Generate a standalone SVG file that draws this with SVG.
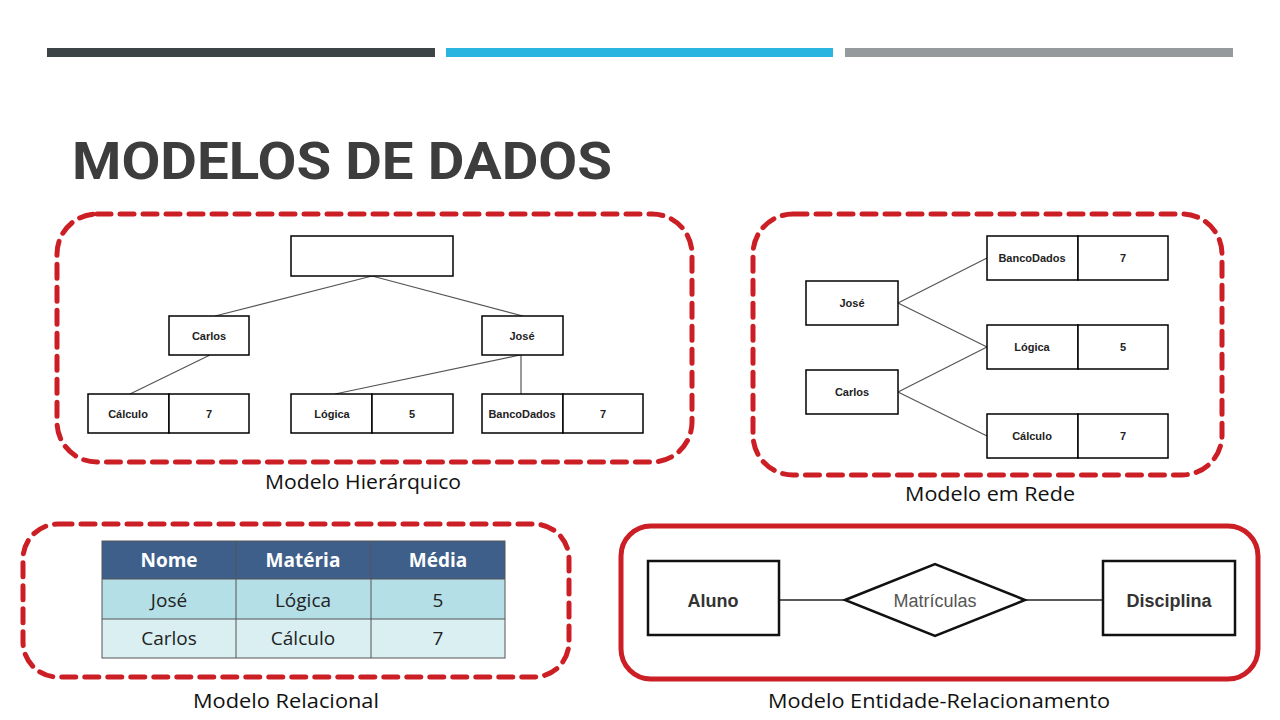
<svg xmlns="http://www.w3.org/2000/svg" width="1280" height="720" viewBox="0 0 1280 720">
<style>
.dash{fill:none;stroke:#cc1f25;stroke-width:5;stroke-dasharray:14 9;stroke-linecap:round}
.b{fill:#fff;stroke:#000;stroke-width:1.5}
.t{font-family:"Liberation Sans",Arial,sans-serif;font-size:11px;text-anchor:middle;font-weight:bold;fill:#222}
.cap{font-family:"Open Sans","Liberation Sans",sans-serif;font-size:20px;text-anchor:middle;fill:#111}
.ln{stroke:#555;stroke-width:1.2;fill:none}
.th{font-family:"Open Sans","Liberation Sans",sans-serif;font-size:19px;font-weight:bold;fill:#fff;text-anchor:middle}
.td{font-family:"Open Sans","Liberation Sans",sans-serif;font-size:19px;fill:#222;text-anchor:middle}
.er{font-family:"Liberation Sans",Arial,sans-serif;font-size:18px;font-weight:bold;fill:#333;text-anchor:middle}
</style>
<rect width="1280" height="720" fill="#fff"/>
<rect x="47" y="48" width="388" height="9" fill="#3d4447"/>
<rect x="446" y="48" width="387" height="9" fill="#29b5e0"/>
<rect x="845" y="48" width="388" height="9" fill="#959b9d"/>
<text x="72" y="179" font-family="Roboto,'Liberation Sans',sans-serif" font-weight="bold" font-size="52" fill="#3d3d3d" textLength="540" lengthAdjust="spacingAndGlyphs">MODELOS DE DADOS</text>

<g id="connectors">
<line class="ln" x1="372" y1="276" x2="215" y2="316"/>
<line class="ln" x1="372" y1="276" x2="523" y2="316"/>
<line class="ln" x1="210" y1="355" x2="130" y2="394"/>
<line class="ln" x1="520" y1="355" x2="335" y2="394"/>
<line class="ln" x1="521" y1="355" x2="521" y2="394"/>
<line class="ln" x1="898" y1="303" x2="987" y2="258"/>
<line class="ln" x1="898" y1="303" x2="987" y2="347"/>
<line class="ln" x1="898" y1="392" x2="987" y2="347"/>
<line class="ln" x1="898" y1="392" x2="987" y2="436"/>
<line x1="779" y1="600" x2="845" y2="600" stroke="#222" stroke-width="1.5"/>
<line x1="1025" y1="600" x2="1103" y2="600" stroke="#222" stroke-width="1.5"/>
</g>

<g id="hier">
<rect class="dash" x="57" y="214" width="635" height="248" rx="40"/>
<rect class="b" x="291" y="236" width="162" height="40"/>
<rect class="b" x="169" y="316" width="80" height="39"/><text class="t" x="209" y="340">Carlos</text>
<rect class="b" x="482" y="316" width="81" height="39"/><text class="t" x="522" y="340">José</text>
<rect class="b" x="88" y="394" width="81" height="39"/><rect class="b" x="169" y="394" width="80" height="39"/>
<text class="t" x="128" y="418">Cálculo</text><text class="t" x="209" y="418">7</text>
<rect class="b" x="291" y="394" width="81" height="39"/><rect class="b" x="372" y="394" width="81" height="39"/>
<text class="t" x="332" y="418">Lógica</text><text class="t" x="412" y="418">5</text>
<rect class="b" x="482" y="394" width="81" height="39"/><rect class="b" x="563" y="394" width="80" height="39"/>
<text class="t" x="522" y="418">BancoDados</text><text class="t" x="603" y="418">7</text>
<text class="cap" x="363" y="489" textLength="196" lengthAdjust="spacingAndGlyphs">Modelo Hierárquico</text>
</g>

<g id="rede">
<rect class="dash" x="753" y="214" width="469" height="261" rx="40"/>
<rect class="b" x="806" y="281" width="92" height="44"/><text class="t" x="852" y="307">José</text>
<rect class="b" x="806" y="370" width="92" height="44"/><text class="t" x="852" y="396">Carlos</text>
<rect class="b" x="987" y="236" width="91" height="44"/><rect class="b" x="1078" y="236" width="90" height="44"/>
<text class="t" x="1032" y="262">BancoDados</text><text class="t" x="1123" y="262">7</text>
<rect class="b" x="987" y="325" width="91" height="44"/><rect class="b" x="1078" y="325" width="90" height="44"/>
<text class="t" x="1032" y="351">Lógica</text><text class="t" x="1123" y="351">5</text>
<rect class="b" x="987" y="414" width="91" height="44"/><rect class="b" x="1078" y="414" width="90" height="44"/>
<text class="t" x="1032" y="440">Cálculo</text><text class="t" x="1123" y="440">7</text>
<text class="cap" x="990" y="501" textLength="170" lengthAdjust="spacingAndGlyphs">Modelo em Rede</text>
</g>

<g id="relacional">
<rect class="dash" x="23" y="524" width="546" height="153" rx="35"/>
<rect x="102" y="541" width="403" height="38" fill="#3e5f8a"/>
<rect x="102" y="579" width="403" height="40" fill="#b4dfe6"/>
<rect x="102" y="619" width="403" height="39" fill="#d9eff2"/>
<g stroke="#555" stroke-width="1" fill="none">
<rect x="102" y="541" width="403" height="117"/>
<line x1="236" y1="541" x2="236" y2="658"/><line x1="371" y1="541" x2="371" y2="658"/>
<line x1="102" y1="579" x2="505" y2="579"/><line x1="102" y1="619" x2="505" y2="619"/>
</g>
<text class="th" x="169" y="567">Nome</text><text class="th" x="303" y="567">Matéria</text><text class="th" x="438" y="567">Média</text>
<text class="td" x="169" y="607">José</text><text class="td" x="303" y="607">Lógica</text><text class="td" x="438" y="607">5</text>
<text class="td" x="169" y="645">Carlos</text><text class="td" x="303" y="645">Cálculo</text><text class="td" x="438" y="645">7</text>
<text class="cap" x="286" y="708" textLength="186" lengthAdjust="spacingAndGlyphs">Modelo Relacional</text>
</g>

<g id="er">
<rect x="621" y="526" width="637" height="153" rx="30" fill="none" stroke="#cc1f25" stroke-width="5"/>
<rect x="648" y="561" width="131" height="74" fill="#fff" stroke="#111" stroke-width="2.5"/>
<text class="er" x="713" y="607">Aluno</text>
<rect x="1103" y="561" width="132" height="74" fill="#fff" stroke="#111" stroke-width="2.5"/>
<text class="er" x="1169" y="607">Disciplina</text>
<polygon points="845,600 935,564 1025,600 935,636" fill="#fff" stroke="#111" stroke-width="2.5"/>
<text x="935" y="607" font-family="Liberation Sans,Arial,sans-serif" font-size="18" fill="#555" text-anchor="middle">Matrículas</text>
<text class="cap" x="939" y="708" textLength="342" lengthAdjust="spacingAndGlyphs">Modelo Entidade-Relacionamento</text>
</g>
</svg>
